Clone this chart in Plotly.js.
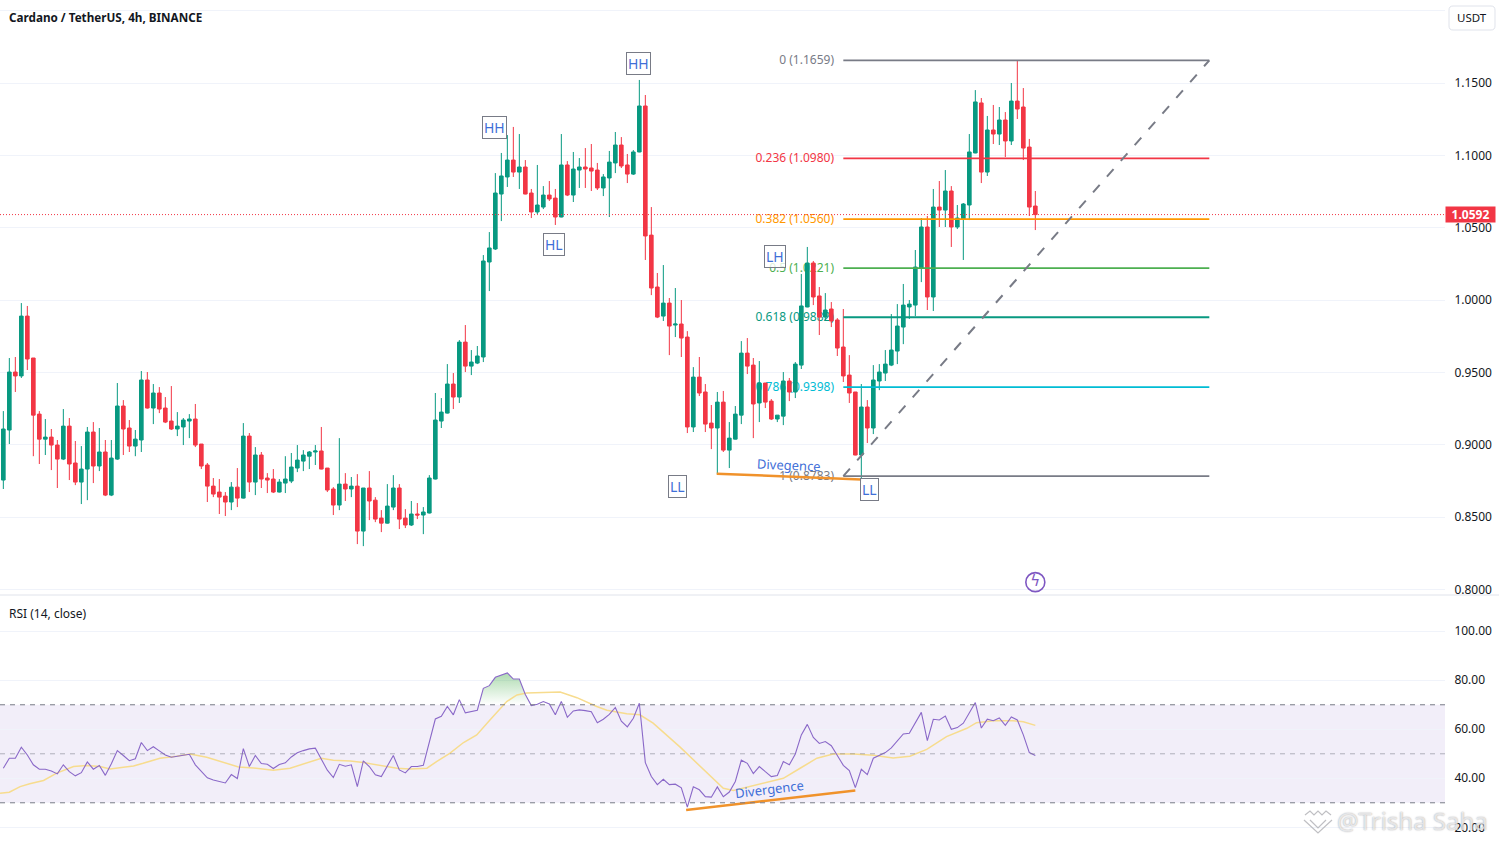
<!DOCTYPE html>
<html><head><meta charset="utf-8">
<script src="https://cdn.plot.ly/plotly-3.0.1.min.js"></script>
<style>html,body{margin:0;padding:0;background:#fff}#c{width:1499px;height:842px}</style>
</head><body><div id="c"></div>
<script>
const opens=[.8756,.9102,.9503,.9476,.9890,.9600,.9212,.9039,.9053,.8998,.8901,.9129,.8874,.8742,.8832,.9088,.8853,.8950,.8652,.8901,
.9268,.9116,.8991,.9033,.9448,.9254,.9358,.9254,.9164,.9109,.9123,.9164,.9178,.9005,.8860,.8714,.8673,.8645,.8604,.8707,
.8631,.9060,.8742,.8929,.8770,.8763,.8673,.8735,.8749,.8839,.8887,.8921,.8950,.8957,.8839,.8694,.8583,.8728,.8694,.8714,
.8403,.8701,.8617,.8493,.8458,.8569,.8701,.8493,.8445,.8521,.8514,.8528,.8763,.9164,.9219,.9420,.9330,.9710,.9544,.9565,
.9607,1.0264,1.0354,1.0734,1.0852,1.0969,1.0886,1.0921,1.0741,1.0610,1.0644,1.0727,1.0706,1.0575,1.0935,1.0727,1.0900,1.0921,1.0914,1.0900,
1.0776,1.0845,1.0949,1.1073,1.0935,1.0872,1.1025,1.1343,1.0450,1.0091,.9890,.9980,.9828,.9835,.9745,.9123,.9468,.9365,.9150,.9116,
.9295,.8963,.9039,.9205,.9634,.9551,.9289,.9427,.9302,.9178,.9198,.9441,.9365,.9551,.9953,1.0257,1.0029,.9883,.9939,.9863,
.9676,.9482,.9365,.8929,.9261,.9116,.9441,.9496,.9551,.9648,.9814,.9953,.9966,1.0222,1.0506,1.0022,1.0644,1.0623,1.0755,1.0506,
1.0561,1.0658,1.1018,1.1364,1.0886,1.1177,1.1149,1.1246,1.1101,1.1377,1.1336,1.1059,1.0651];
const highs=[.9233,.9600,.9607,.9980,.9960,.9600,.9233,.9178,.9109,.9033,.9247,.9185,.9026,.8991,.9123,.9157,.9116,.9033,.9033,.9427,
.9309,.9171,.9102,.9510,.9503,.9420,.9399,.9330,.9406,.9226,.9185,.9212,.9282,.9005,.8874,.8770,.8763,.8673,.8742,.8839,
.9150,.9081,.8984,.8950,.8804,.8832,.8763,.8921,.8943,.8998,.8963,.8957,.8998,.9123,.8839,.8707,.9046,.8804,.8777,.8797,
.8701,.8818,.8638,.8548,.8728,.8790,.8728,.8555,.8611,.8597,.8569,.8790,.9358,.9323,.9558,.9496,.9724,.9828,.9655,.9683,
1.0312,1.0471,1.0879,1.1018,1.1142,1.1198,1.1149,1.0969,1.0769,1.0935,1.0789,1.0824,1.0769,1.1149,1.0962,1.1025,1.0983,1.1052,1.1080,1.0949,
1.0872,1.1032,1.1163,1.1128,1.1011,1.1038,1.1523,1.1419,1.0644,1.0188,1.0243,1.0015,1.0084,1.0001,.9786,.9537,.9607,.9420,.9275,.9365,
.9372,.9157,.9268,.9717,.9738,.9600,.9579,.9427,.9316,.9205,.9503,.9462,.9572,1.0181,1.0368,1.0271,1.0091,1.0049,.9987,.9876,
.9939,.9620,.9365,.9420,.9309,.9551,.9558,.9655,.9904,.9973,1.0112,1.0001,1.0347,1.0568,1.0582,1.0769,1.0824,1.0900,1.0789,1.0658,
1.0672,1.1149,1.1453,1.1398,1.1274,1.1350,1.1336,1.1301,1.1502,1.1659,1.1467,1.1115,1.0755];
const lows=[.8694,.9005,.9365,.9462,.9517,.8921,.8867,.8929,.8825,.8701,.8894,.8756,.8721,.8590,.8617,.8735,.8818,.8645,.8645,.8895,
.8929,.8950,.8921,.8950,.9250,.9143,.9219,.9150,.9102,.9060,.8998,.9046,.8984,.8832,.8604,.8638,.8521,.8507,.8548,.8569,
.8628,.8673,.8652,.8701,.8666,.8666,.8670,.8666,.8735,.8811,.8818,.8832,.8860,.8830,.8673,.8514,.8548,.8611,.8638,.8313,
.8299,.8479,.8465,.8396,.8455,.8548,.8417,.8424,.8438,.8486,.8382,.8525,.8760,.9116,.9216,.9247,.9289,.9503,.9482,.9558,
.9572,1.0063,1.0347,1.0547,1.0783,1.0852,1.0769,1.0732,1.0568,1.0596,1.0630,1.0686,1.0520,1.0573,1.0720,1.0679,1.0776,1.0776,1.0755,1.0762,
1.0720,1.0575,1.0879,1.0914,1.0810,1.0866,1.1023,1.0278,1.0035,.9876,.9856,.9620,.9745,.9607,.9081,.9088,.9337,.9088,.8970,.8797,
.8950,.8839,.9037,.9143,.9489,.9046,.9157,.9254,.9171,.9157,.9136,.9302,.9323,.9524,.9951,.9966,.9759,.9856,.9814,.9614,
.9434,.9289,.8927,.8770,.9012,.9074,.9378,.9441,.9544,.9558,.9696,.9870,.9890,1.0125,.9932,.9925,1.0506,1.0506,1.0368,1.0492,
1.0278,1.0554,1.1016,1.0810,1.0859,1.1080,1.1073,1.0990,1.1073,1.1253,1.0969,1.0582,1.0485];
const closes=[.9109,.9503,.9476,.9890,.9593,.9205,.9039,.9053,.8998,.8901,.9129,.8867,.8742,.8832,.9088,.8853,.8950,.8652,.8908,.9268,
.9109,.8991,.9039,.9448,.9254,.9358,.9247,.9157,.9109,.9129,.9171,.9178,.8998,.8853,.8714,.8659,.8638,.8604,.8707,.8631,
.9060,.8742,.8929,.8763,.8756,.8673,.8742,.8763,.8846,.8894,.8929,.8950,.8957,.8832,.8687,.8583,.8728,.8694,.8714,.8403,
.8701,.8611,.8486,.8458,.8576,.8701,.8486,.8445,.8521,.8514,.8535,.8770,.9171,.9226,.9420,.9330,.9710,.9544,.9572,.9614,
1.0271,1.0361,1.0741,1.0859,1.0969,1.0886,1.0921,1.0734,1.0610,1.0658,1.0727,1.0700,1.0575,1.0935,1.0727,1.0907,1.0921,1.0907,1.0893,1.0776,
1.0852,1.0955,1.1073,1.0928,1.0872,1.1025,1.1343,1.0444,1.0084,.9883,.9980,.9821,.9835,.9738,.9123,.9468,.9358,.9143,.9116,.9295,
.8963,.9046,.9212,.9634,.9544,.9282,.9427,.9295,.9178,.9205,.9441,.9365,.9558,.9960,1.0257,1.0022,.9883,.9932,.9856,.9669,
.9476,.9358,.8929,.9261,.9116,.9448,.9503,.9558,.9655,.9821,.9966,.9973,1.0229,1.0506,1.0022,1.0644,1.0623,1.0755,1.0506,1.0568,
1.0665,1.1025,1.1371,1.0886,1.1177,1.1149,1.1246,1.1101,1.1377,1.1322,1.1052,1.0644,1.0592];
const rsiValues=[44.1,48.2,48.2,52.7,49.5,45.5,43.7,43.7,43.0,41.8,45.5,42.7,41.0,42.3,46.7,43.7,45.2,41.2,45.9,51.3,
49.3,47.2,48.0,54.6,51.3,52.9,51.2,49.5,48.6,48.9,49.5,49.8,45.5,42.7,40.2,39.3,38.8,38.1,41.5,39.9,
52.1,44.8,49.3,46.0,45.7,44.0,45.6,46.3,48.7,50.4,51.3,52.0,52.3,47.8,43.3,40.3,45.7,44.9,45.5,36.6,
47.1,44.8,41.4,40.7,45.0,49.3,43.4,42.2,44.8,44.8,45.3,54.3,64.2,65.3,69.3,65.9,72.1,66.7,67.1,67.8,
76.7,77.8,81.2,82.2,83.0,80.5,80.5,74.2,69.7,70.2,71.3,70.3,65.9,71.4,64.9,67.5,67.9,67.6,67.2,62.7,
64.1,66.1,68.9,63.3,61.0,64.5,70.6,46.4,40.7,37.4,39.6,37.4,37.6,36.1,28.2,36.5,35.3,32.5,32.3,36.5,
32.5,34.4,38.7,47.4,46.1,41.9,44.8,42.7,40.7,41.1,46.8,45.5,49.9,57.7,62.0,56.7,54.2,55.0,53.3,49.3,
45.3,43.1,36.2,43.7,41.5,48.2,49.3,50.5,52.4,55.2,58.1,58.4,62.7,66.9,55.4,64.1,63.8,65.4,60.0,60.7,
62.5,66.8,70.9,60.5,64.1,63.5,64.6,61.6,65.0,63.8,57.7,50.5,49.3];
const rsiMaX=[-0.55,1,2.8,4.4,6.7,8.9,11.7,13.9,16.1,17.8,20,21.7,23.3,26.1,28.9,31.1,33.9,36.7,39.2,41.7,45,47.8,50.6,53,55,57.8,60,62.8,
65.6,67.8,70.6,72.2,74.4,76.7,78.9,81.1,83.9,85.6,87.2,90,92.8,95.6,98.9,100.6,103.9,106.1,108.3,112.8,116.7,120,121.7,124.4,127.2,130,132.8,135.6,138.3,141.7,145,148.3,151.1,153.9,157.2,160.6,162.2,165,168.3,170,172];
const rsiMaY=[33.9,34.3,36.6,37.8,39.1,42.1,44.8,45.2,44.8,43.8,44.5,45.0,46.1,48.2,49.0,49.9,48.6,46.4,44.6,44.2,43.3,44.1,46.3,48.2,47.4,47.1,46.4,45.3,
44.1,43.8,44.1,46.8,50.2,54.6,57.7,63.8,71.3,74.0,74.8,75.0,75.2,72.9,69.3,67.8,66.3,65.9,62.5,52.7,43.4,35.9,35.0,36.6,38.4,40.0,44.1,48.2,49.9,49.9,49.4,48.3,49.0,51.8,57.0,60.4,62.7,63.5,63.5,63.1,61.6];
const fibRatios=["0","0.236","0.382","0.5","0.618","0.786","1"];
const fibPrices=[1.1659,1.0980,1.0560,1.0221,0.9882,0.9398,0.8783];
const fibColors=["#787b86","#f23645","#ff9800","#4caf50","#089981","#00bcd4","#787b86"];
const priceTicks=[0.80,0.85,0.90,0.95,1.00,1.05,1.10,1.15,1.20];
const priceTickText=["0.8000","0.8500","0.9000","0.9500","1.0000","1.0500","1.1000","1.1500",""];
const rsiTicks=[20,40,60,80,100];
const rsiTickText=["20.00","40.00","60.00","80.00","100.00"];
const lastPrice=1.0592;
const swingLabels=["HH","HH","HL","LH","LL","LL"];
const swingX=[81.8,105.8,91.7,128.6,112.4,144.4];
const swingY=[1.1191,1.1640,1.0388,1.0305,0.8708,0.8694];

const FONT='"Noto Sans",sans-serif', UP='#089981', DN='#f23645', GRID='#f0f3fa', BLUE='#3f6fd8', PUR='#7e57c2';
const idx=opens.map((_,i)=>i);
const xR=[-0.555,240.28];
const px=x=>x/1445, py=y=>1-y/842;
const rx=(x,y)=>[px(x).toFixed(5),py(y).toFixed(5)].join(',');

const over0=[], over1=[];
for(let i=80;i<=87;i++){over0.push(i);over1.push(rsiValues[i]);}
const gx=[79.25,...over0,87.93], gy=[70,...over1,70];

const traces=[];
traces.push({type:'scatter',mode:'text',xaxis:'x',yaxis:'y',x:fibPrices.map(()=>138.45),y:fibPrices.map(p=>p-0.0007),
  text:fibRatios.map((r,i)=>r+' ('+fibPrices[i].toFixed(4)+')'),textposition:'middle left',
  textfont:{family:FONT,size:12,color:fibColors},cliponaxis:false,hoverinfo:'skip',showlegend:false});
traces.push({type:'candlestick',xaxis:'x',yaxis:'y3',x:idx,open:opens,high:highs,low:lows,close:closes,whiskerwidth:0,
  increasing:{line:{color:UP,width:1},fillcolor:UP},decreasing:{line:{color:DN,width:1},fillcolor:DN},hoverinfo:'skip',showlegend:false});
fibPrices.forEach((p,i)=>traces.push({type:'scatter',mode:'lines',xaxis:'x',yaxis:'y3',x:[140,201],y:[p,p],
  line:{color:fibColors[i],width:1.8},hoverinfo:'skip',showlegend:false}));
traces.push({type:'scatter',mode:'lines',xaxis:'x',yaxis:'y3',x:[140,201],y:[fibPrices[6],fibPrices[0]],
  line:{color:'#787b86',width:2,dash:'10px,11px'},hoverinfo:'skip',showlegend:false});
traces.push({type:'scatter',mode:'lines',xaxis:'x',yaxis:'y3',x:[118.9,143],y:[0.8800,0.8760],
  line:{color:'#f0922b',width:2.5},hoverinfo:'skip',showlegend:false});
traces.push({type:'scatter',mode:'markers+text',xaxis:'x',yaxis:'y3',x:[172],y:[0.8050],text:['ϟ'],textposition:'middle center',
  textfont:{family:'"DejaVu Sans"',size:15,color:PUR},marker:{symbol:'circle-open',size:19,color:PUR,line:{color:PUR,width:1.6}},hoverinfo:'skip',showlegend:false});
traces.push({type:'scatter',mode:'lines',xaxis:'x2',yaxis:'y2',x:gx,y:gx.map(()=>70),line:{width:0,color:'rgba(0,0,0,0)'},hoverinfo:'skip',showlegend:false});
traces.push({type:'scatter',mode:'lines',xaxis:'x2',yaxis:'y2',x:gx,y:gy,line:{width:0,color:'rgba(0,0,0,0)'},fill:'tonexty',
  fillgradient:{type:'vertical',start:83,stop:70,colorscale:[[0,'rgba(76,175,80,0.45)'],[1,'rgba(76,175,80,0)']]},hoverinfo:'skip',showlegend:false});
traces.push({type:'scatter',mode:'lines',xaxis:'x2',yaxis:'y2',x:rsiMaX,y:rsiMaY,line:{color:'#f7dc8e',width:1.5},hoverinfo:'skip',showlegend:false});
traces.push({type:'scatter',mode:'lines',xaxis:'x2',yaxis:'y2',x:idx,y:rsiValues,line:{color:'#8a68c8',width:1.1},hoverinfo:'skip',showlegend:false});
traces.push({type:'scatter',mode:'lines',xaxis:'x2',yaxis:'y2',x:[113.8,142],y:[27.1,35.0],line:{color:'#f0922b',width:2.5},hoverinfo:'skip',showlegend:false});

const anns=[];
const C={xanchor:'center',yanchor:'middle',showarrow:false};
swingLabels.forEach((t,i)=>anns.push({...C,xref:'x',yref:'y3',x:swingX[i],y:swingY[i],text:t,
  font:{family:FONT,size:14,color:BLUE},bgcolor:'rgba(255,255,255,0.8)',bordercolor:'#787b86',borderwidth:1,borderpad:1}));
anns.push({xref:'paper',yref:'paper',x:px(7),y:py(17),xanchor:'left',yanchor:'middle',showarrow:false,text:'<b>Cardano / TetherUS, 4h, BINANCE</b>',font:{family:FONT,size:11.7,color:'#131722'}});
anns.push({xref:'paper',yref:'paper',x:px(7),y:py(613),xanchor:'left',yanchor:'middle',showarrow:false,text:'RSI (14, close)',font:{family:FONT,size:12,color:'#131722'}});
anns.push({...C,xref:'paper',yref:'paper',x:px(1472),y:py(18),text:'USDT',font:{family:FONT,size:11.5,color:'#131722'}});
anns.push({...C,xref:'paper',yref:'y3',x:px(1470.5),y:lastPrice,text:'<b>'+lastPrice.toFixed(4)+'</b>',font:{family:FONT,size:12,color:'#fff'},bgcolor:DN,borderpad:0,width:49,height:15});
anns.push({...C,xref:'paper',yref:'paper',x:px(789),y:py(464.5),textangle:2.5,text:'Divegence',font:{family:FONT,size:13,color:BLUE}});
anns.push({...C,xref:'paper',yref:'paper',x:px(770),y:py(789),textangle:-7,text:'Divergence',font:{family:FONT,size:13,color:BLUE}});
anns.push({...C,xref:'paper',yref:'paper',x:px(1412),y:py(820),text:'@Trisha Saha',font:{family:FONT,size:24,color:'rgba(255,255,255,0.7)',shadow:'0 0 1.5px rgba(100,100,105,0.95)'}});

const shapes=[
 {type:'rect',xref:'paper',yref:'y2',x0:0,x1:1,y0:30,y1:70,fillcolor:'rgba(126,87,194,0.1)',line:{width:0},layer:'below'},
 {type:'line',xref:'paper',yref:'y2',x0:0,x1:1,y0:70,y1:70,line:{color:'#787b86',width:1,dash:'5px,5px'}},
 {type:'line',xref:'paper',yref:'y2',x0:0,x1:1,y0:30,y1:30,line:{color:'#787b86',width:1,dash:'5px,5px'}},
 {type:'line',xref:'paper',yref:'y2',x0:0,x1:1,y0:50,y1:50,line:{color:'rgba(120,123,134,0.55)',width:1,dash:'5px,5px'}},
 {type:'line',xref:'paper',yref:'y3',x0:0,x1:1,y0:lastPrice,y1:lastPrice,line:{color:DN,width:1,dash:'1px,2px'}},
 {type:'line',xref:'paper',yref:'paper',x0:0,x1:px(1499),y0:py(595),y1:py(595),line:{color:'#e0e3eb',width:1}},
 {type:'path',xref:'paper',yref:'paper',line:{color:'#e0e3eb',width:1},fillcolor:'rgba(0,0,0,0)',
  path:`M${rx(1453,6)} L${rx(1491,6)} Q${rx(1495,6)} ${rx(1495,10)} L${rx(1495,26)} Q${rx(1495,30)} ${rx(1491,30)} L${rx(1453,30)} Q${rx(1449,30)} ${rx(1449,26)} L${rx(1449,10)} Q${rx(1449,6)} ${rx(1453,6)} Z`},
 {type:'path',xref:'paper',yref:'paper',line:{color:'rgba(175,175,180,0.8)',width:1.2},
  path:`M${rx(1304,820)} L${rx(1318,833)} L${rx(1332,820)} M${rx(1310,820)} L${rx(1318,828)} L${rx(1326,820)} M${rx(1305,815)} L${rx(1310,811)} L${rx(1314,815)} L${rx(1318,811)} L${rx(1322,815)} L${rx(1326,811)} L${rx(1331,815)}`}
];

const layout={width:1499,height:842,margin:{l:0,r:54,t:0,b:0,pad:0},paper_bgcolor:'#fff',plot_bgcolor:'#fff',showlegend:false,hovermode:false,
 font:{family:FONT,size:12,color:'#131722'},boxgap:0.14,
 xaxis:{domain:[0,1],range:xR,type:'linear',visible:false,showgrid:false,rangeslider:{visible:false},anchor:'y'},
 xaxis2:{domain:[0,1],range:xR,type:'linear',visible:false,showgrid:false,anchor:'y2'},
 yaxis:{domain:[py(595),1],range:[0.7961,1.2076],side:'right',anchor:'x',tickmode:'array',tickvals:priceTicks,ticktext:priceTickText,
   gridcolor:GRID,gridwidth:1,zeroline:false,showline:false,ticks:'outside',ticklen:6,tickcolor:'rgba(0,0,0,0)',tickfont:{family:FONT,size:12,color:'#131722'}},
 yaxis2:{domain:[0,py(595)],range:[14.0,114.8],side:'right',anchor:'x2',tickmode:'array',tickvals:rsiTicks,ticktext:rsiTickText,
   gridcolor:GRID,gridwidth:1,zeroline:false,showline:false,ticks:'outside',ticklen:6,tickcolor:'rgba(0,0,0,0)',tickfont:{family:FONT,size:12,color:'#131722'}},
 yaxis3:{domain:[py(595),1],range:[0.7961,1.2076],overlaying:'y',anchor:'x',side:'right',visible:false,showgrid:false,zeroline:false},
 shapes:shapes,annotations:anns};
Plotly.newPlot('c',traces,layout,{staticPlot:true,displayModeBar:false});
</script></body></html>
